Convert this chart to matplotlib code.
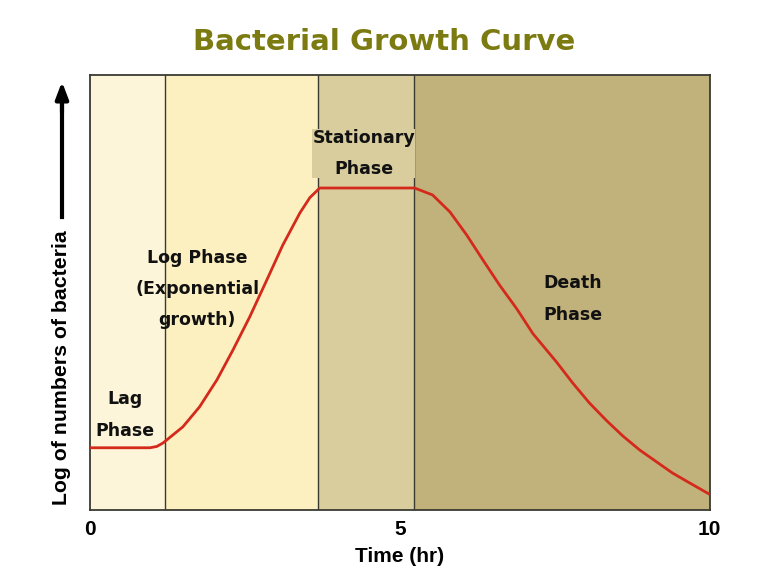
import matplotlib.pyplot as plt

# growth curve (time in hr, log count in arbitrary units)
time_hr = [0, 0.97, 1.08, 1.18, 1.50, 1.77, 2.05, 2.31, 2.58, 2.85, 3.11, 3.39, 3.55, 3.71,
           5.24, 5.53, 5.81, 6.08, 6.34, 6.61, 6.89, 7.15, 7.53, 7.79, 8.06, 8.34, 8.60,
           8.87, 9.15, 9.40, 9.68, 10.0]
log_count = [1.43, 1.43, 1.46, 1.54, 1.91, 2.37, 2.99, 3.68, 4.44, 5.27, 6.08, 6.83, 7.18, 7.40,
             7.40, 7.24, 6.85, 6.32, 5.75, 5.17, 4.62, 4.05, 3.40, 2.92, 2.46, 2.05, 1.70,
             1.38, 1.10, 0.85, 0.62, 0.36]

# phase bands
phase_edges = [0, 1.21, 3.68, 5.23, 10]
phase_colors = ["#fdf5d9", "#fcefc0", "#d9cd9e", "#c1b27c"]
phase_labels = ["Lag\nPhase", "Log Phase\n(Exponential\ngrowth)", "Stationary\nPhase", "Death\nPhase"]
label_pos = [(0.56, 2.18), (1.73, 5.08), (4.42, 8.2), (7.79, 4.85)]

xticks = [0, 5, 10]

TXT = ["Liberation Sans", "DejaVu Sans"]

fig = plt.figure(figsize=(7.68, 5.76), dpi=100)
ax = fig.add_axes([0.117, 0.1146, 0.807, 0.7554])

for i, c in enumerate(phase_colors):
    ax.axvspan(phase_edges[i], phase_edges[i + 1], color=c, lw=0, zorder=0)
for e in phase_edges[1:-1]:
    ax.axvline(e, color="#3a3a32", lw=1.0, zorder=1)

ax.plot(time_hr, log_count, color="#d42a1c", lw=2.0, zorder=3,
        solid_joinstyle="round", solid_capstyle="butt")

for i, (lab, (x, y)) in enumerate(zip(phase_labels, label_pos)):
    kw = {}
    if i == 2:
        # the label sits over the stationary/death boundary and hides it
        kw["bbox"] = dict(facecolor=phase_colors[2], edgecolor="none", pad=0)
    ax.text(x, y, lab, ha="center", va="center", fontsize=12.5, fontweight="bold",
            family="DejaVu Sans", linespacing=1.95, color="#111111", zorder=4, **kw)

ax.set_xlim(0, 10)
ax.set_ylim(0, 10)
ax.set_xticks(xticks)
ax.set_xticklabels([str(t) for t in xticks], family=TXT, fontsize=15, fontweight="bold")
ax.set_yticks([])
ax.tick_params(axis="x", length=0, pad=7)
for s in ax.spines.values():
    s.set_color("#3a3a32")
    s.set_linewidth(1.3)

ax.set_xlabel("Time (hr)", family=TXT, fontsize=15, fontweight="bold", labelpad=6)

fig.text(0.0807, 0.362, "Log of numbers of bacteria", rotation=90, ha="center", va="center",
         family=TXT, fontsize=15.3, fontweight="bold")
fig.add_artist(plt.Line2D([0.0807, 0.0807], [0.624, 0.835], transform=fig.transFigure,
                          color="black", lw=3))
ax.annotate("", xy=(0.0807, 0.863), xytext=(0.0807, 0.80), xycoords="figure fraction",
            textcoords="figure fraction",
            arrowprops=dict(arrowstyle="-|>,head_length=1.0,head_width=0.38", color="black", lw=3))

fig.text(0.5, 0.927, "Bacterial Growth Curve", ha="center", va="center",
         family="DejaVu Sans", fontsize=21, fontweight="bold", color="#7b7b12")

fig.savefig("out.png", dpi=100)
